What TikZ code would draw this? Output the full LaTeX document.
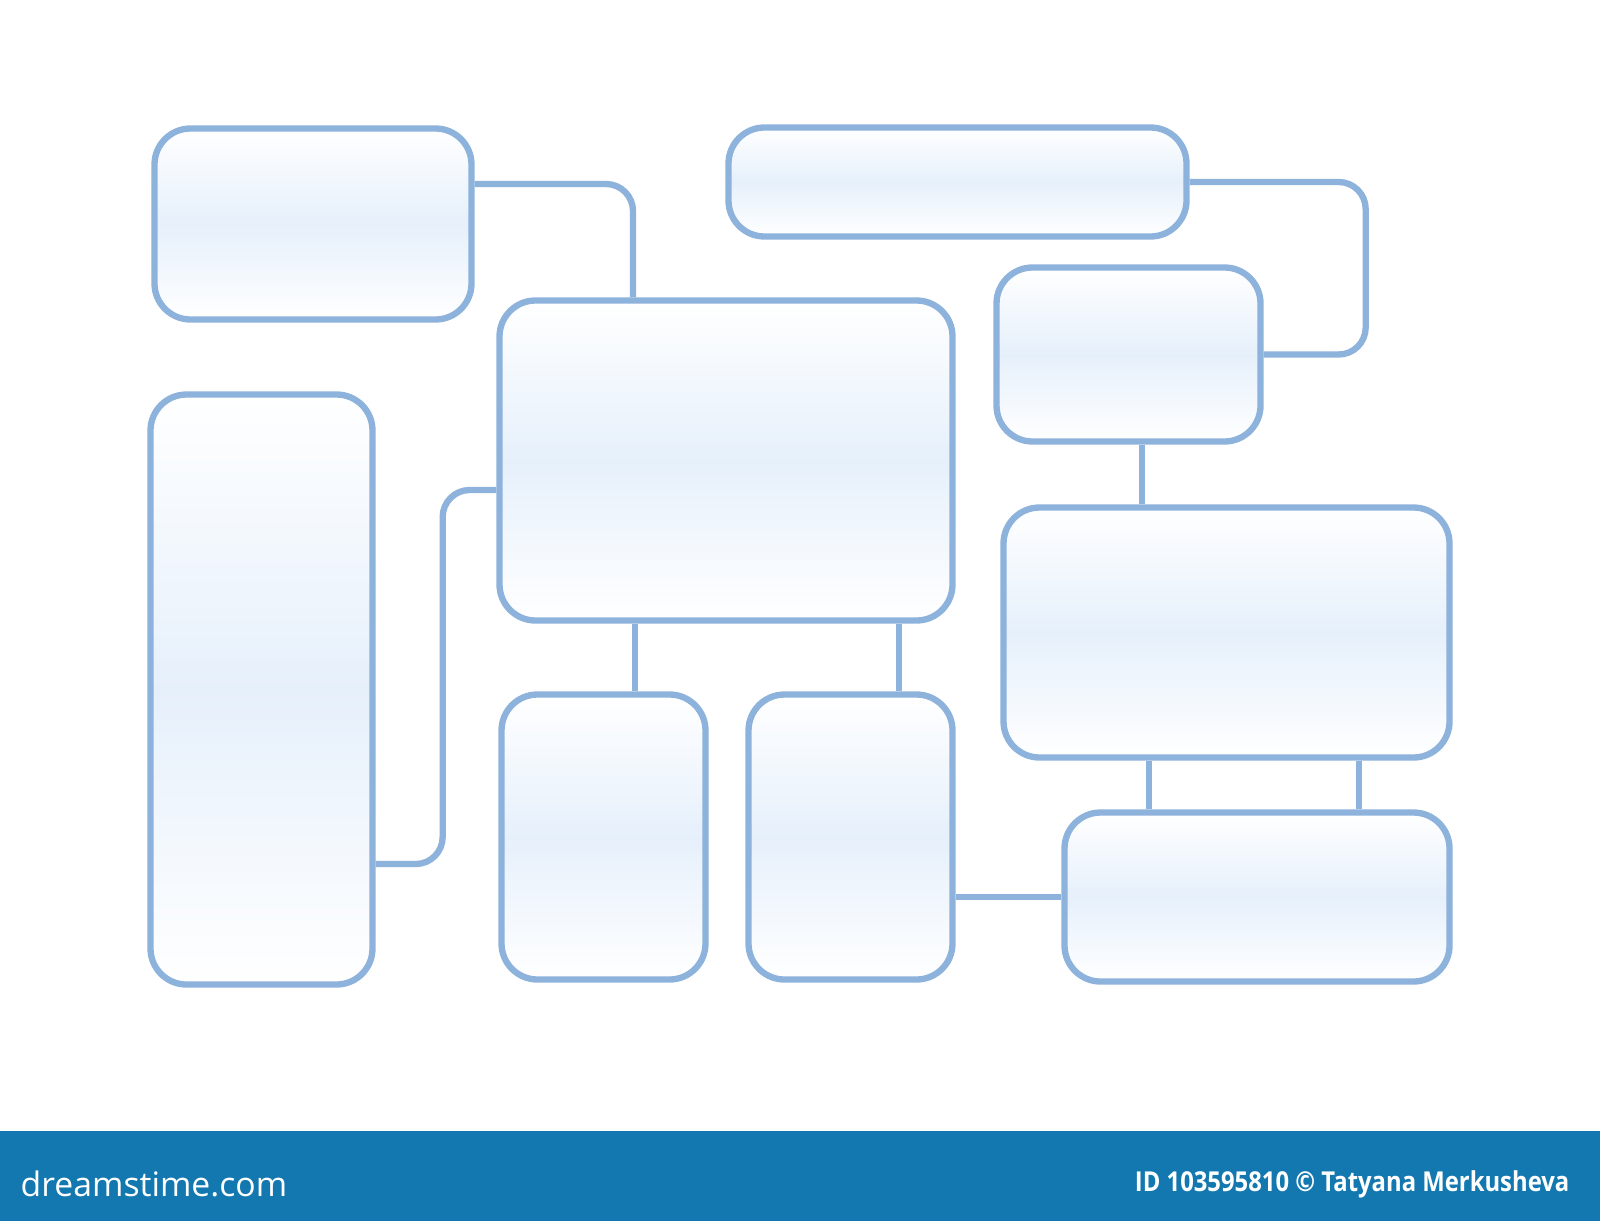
\documentclass[tikz,border=0pt]{standalone}
\usepackage{fontspec}
\setsansfont{Open Sans}
\definecolor{edgeblue}{RGB}{141,178,219}
\definecolor{paleblue}{RGB}{230,240,251}
\definecolor{barblue}{RGB}{18,120,175}
\tikzset{
  card/.style={draw=edgeblue,line width=1.8pt,rounded corners=0.36cm,inner sep=0pt,
    top color=white,bottom color=white,middle color=paleblue},
  link/.style={draw=edgeblue,line width=1.8pt,rounded corners=0.27cm},
  bartext/.style={text=white,inner sep=0pt}
}
\begin{document}
\begin{tikzpicture}
\useasboundingbox(0,0) rectangle (16,-12.21);
\node[card,minimum width=3.17cm,minimum height=1.91cm](topleft) at (3.13,-2.24){};
\node[card,minimum width=4.58cm,minimum height=1.09cm](topwide) at (9.575,-1.82){};
\node[card,minimum width=2.64cm,minimum height=1.74cm](rightsmall) at (11.285,-3.545){};
\node[card,minimum width=4.53cm,minimum height=3.20cm](main) at (7.26,-4.605){};
\node[card,minimum width=2.22cm,minimum height=5.90cm](tall) at (2.615,-6.895){};
\node[card,minimum width=2.04cm,minimum height=2.85cm](lowleft) at (6.035,-8.37){};
\node[card,minimum width=2.04cm,minimum height=2.85cm](lowmid) at (8.505,-8.37){};
\node[card,minimum width=4.46cm,minimum height=2.50cm](rightmid) at (12.265,-6.325){};
\node[card,minimum width=3.85cm,minimum height=1.69cm](lowright) at (12.57,-8.97){};
\draw[link]([yshift=0.4cm]topleft.east) -| ([xshift=-0.93cm]main.north);
\draw[link](topwide.east) -- ++(1.76,0) |- (rightsmall.east);
\draw[link]([xshift=0.135cm]rightsmall.south) -- ([xshift=0.135cm]rightsmall.south |- rightmid.north);
\draw[link]([yshift=-1.745cm]tall.east) -- ++(0.67,0) |- ([yshift=-0.295cm]main.west);
\draw([xshift=0.315cm]lowleft.north |- main.south) edge[link] ([xshift=0.315cm]lowleft.north);
\draw([xshift=0.485cm]lowmid.north |- main.south) edge[link] ([xshift=0.485cm]lowmid.north);
\draw([xshift=-1.08cm]lowright.north |- rightmid.south) edge[link] ([xshift=-1.08cm]lowright.north);
\draw([xshift=1.02cm]lowright.north |- rightmid.south) edge[link] ([xshift=1.02cm]lowright.north);
\draw[link](lowmid.east |- lowright.west) -- (lowright.west);
\fill[barblue](0,-11.31) rectangle (16,-12.21);
\node[bartext,anchor=west,font=\sffamily\fontsize{9.6}{11}\selectfont](site) at (0.2,-11.84){dreamstime.com};
\node[bartext,anchor=east,font=\sffamily\bfseries\fontsize{7.8}{9}\selectfont](credit) at (15.7,-11.84){\scalebox{0.87}[1]{ID 103595810 © Tatyana Merkusheva}};
\end{tikzpicture}
\end{document}
